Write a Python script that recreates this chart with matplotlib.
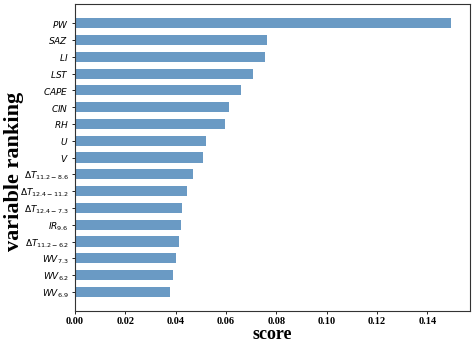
import matplotlib
matplotlib.use("Agg")
import matplotlib.pyplot as plt

labels = [r"$PW$", r"$SAZ$", r"$LI$", r"$LST$", r"$CAPE$", r"$CIN$", r"$RH$", r"$U$", r"$V$",
          r"$\Delta T_{11.2-8.6}$", r"$\Delta T_{12.4-11.2}$", r"$\Delta T_{12.4-7.3}$",
          r"$IR_{9.6}$", r"$\Delta T_{11.2-6.2}$", r"$WV_{7.3}$", r"$WV_{6.2}$", r"$WV_{6.9}$"]
scores = [0.1495, 0.0763, 0.0753, 0.0708, 0.0660, 0.0612, 0.0595, 0.0521, 0.0508,
          0.0470, 0.0445, 0.0425, 0.0421, 0.0412, 0.0403, 0.0391, 0.0378]
xticks = [0.00, 0.02, 0.04, 0.06, 0.08, 0.10, 0.12, 0.14]

fig = plt.figure(figsize=(4.74, 3.47), dpi=100)
ax = fig.add_axes([0.158, 0.104, 0.834, 0.884])
pos = list(range(len(labels)))[::-1]
ax.barh(pos, scores, height=0.6, color="#6a9ac4")
ax.set_yticks(pos)
ax.set_yticklabels(labels, fontsize=6.5)
ax.set_xticks(xticks)
ax.set_xticklabels([f"{t:.2f}" for t in xticks], fontsize=7.5, fontweight="bold",
                   family="Liberation Serif")
ax.tick_params(axis="both", length=2.5, width=0.6, pad=2)
ax.set_xlabel("score", fontsize=13, fontweight="bold", family="Liberation Serif", labelpad=0)
fig.text(14 / 474, 1 - 171 / 347, "variable ranking", rotation=90, ha="center", va="center",
         fontsize=16, fontweight="bold", family="Liberation Serif")
for s in ax.spines.values():
    s.set_color("#333333")
    s.set_linewidth(0.8)
fig.savefig("out.png", dpi=100)
